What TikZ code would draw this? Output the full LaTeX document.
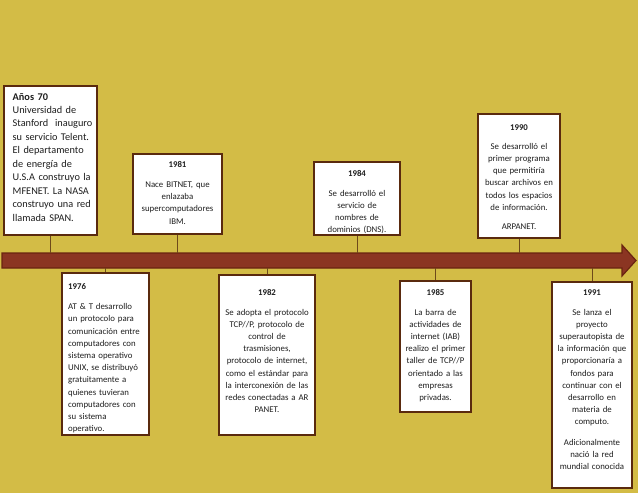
\documentclass[tikz,border=0pt]{standalone}
\usepackage{fontspec}
\setmainfont{Carlito}
\definecolor{bgcol}{HTML}{D3BC46}
\definecolor{arrowfill}{HTML}{8B3522}
\definecolor{arrowline}{HTML}{6A2410}
\definecolor{boxline}{HTML}{5A2A0E}
\definecolor{conncol}{HTML}{6E4A1A}
\definecolor{textcol}{HTML}{1E1E1E}
\tikzset{
  evbox/.style={draw=boxline, line width=2.4pt, fill=white, inner sep=0pt},
  conn/.style={draw=conncol, line width=0.8pt},
  txt/.style={inner sep=0pt, text=textcol, font=\fontsize{8.8}{12.2}\selectfont, align=center},
  txtl/.style={inner sep=0pt, text=textcol, font=\fontsize{8.8}{12.2}\selectfont, align=left},
}
\begin{document}
\begin{tikzpicture}[x=1pt,y=-1pt]
\fill[bgcol] (0,0) rectangle (638,493);
\useasboundingbox (0,0) rectangle (638,493);

% timeline arrow
\filldraw[fill=arrowfill, draw=arrowline, line width=1.2pt]
  (2,253) -- (622,253) -- (622,245) -- (636,260.5) -- (622,276) -- (622,268) -- (2,268) -- cycle;
\coordinate (atop) at (0,253);
\coordinate (abot) at (0,268);

% boxes
\node[evbox, minimum width=93pt, minimum height=149pt] (A70) at (50.5,160.5) {};
\node[evbox, minimum width=87pt, minimum height=162pt] (B76) at (105.5,354) {};
\node[evbox, minimum width=89pt, minimum height=80pt] (B81) at (177.5,194) {};
\node[evbox, minimum width=96pt, minimum height=160pt] (B82) at (267,355) {};
\node[evbox, minimum width=86pt, minimum height=73pt] (B84) at (357,198.5) {};
\node[evbox, minimum width=71pt, minimum height=131pt] (B85) at (435.5,346.5) {};
\node[evbox, minimum width=82pt, minimum height=124pt] (B90) at (519,176) {};
\node[evbox, minimum width=80pt, minimum height=206pt] (B91) at (592,385) {};

% connectors
\draw[conn] (A70.south) -- (A70.south |- atop);
\draw[conn] (B81.south) -- (B81.south |- atop);
\draw[conn] (B84.south) -- (B84.south |- atop);
\draw[conn] (B90.south) -- (B90.south |- atop);
\draw[conn] (B76.north) -- (B76.north |- abot);
\draw[conn] (B82.north) -- (B82.north |- abot);
\draw[conn] (B85.north) -- (B85.north |- abot);
\draw[conn] (B91.north) -- (B91.north |- abot);

% texts
\node[txtl, font=\fontsize{10.3}{13.45}\selectfont, text width=90pt, anchor=base west] (T70) at (12.5,100)
  {\textbf{Años 70}\\ Universidad de\\ Stanford\ \ inauguro\\ su servicio Telent.\\ El departamento\\ de energía de\\ U.S.A construyo la\\ MFENET. La NASA\\ construyo una red\\ llamada SPAN.};
\node[txtl, text width=90pt, anchor=base west] (T76) at (68,289)
  {\textbf{1976}\\[8.5pt] AT \& T desarrollo\\ un protocolo para\\ comunicación entre\\ computadores con\\ sistema operativo\\ UNIX, se distribuyó\\ gratuitamente a\\ quienes tuvieran\\ computadores con\\ su sistema\\ operativo.};
\node[txt, text width=100pt, anchor=base] (T81) at (177.5,167.5)
  {\textbf{1981}\\[7.8pt] Nace BITNET, que\\ enlazaba\\ supercomputadores\\ IBM.};
\node[txt, text width=110pt, anchor=base] (T82) at (267,295)
  {\textbf{1982}\\[7.8pt] Se adopta el protocolo\\ TCP//P, protocolo de\\ control de\\ trasmisiones,\\ protocolo de internet,\\ como el estándar para\\ la interconexión de las\\ redes conectadas a AR\\ PANET.};
\node[txt, text width=100pt, anchor=base] (T84) at (357,176.5)
  {\textbf{1984}\\[7.3pt] Se desarrolló el\\ servicio de\\ nombres de\\ dominios (DNS).};
\node[txt, text width=90pt, anchor=base] (T85) at (435.5,295)
  {\textbf{1985}\\[7.8pt] La barra de\\ actividades de\\ internet (IAB)\\ realizo el primer\\ taller de TCP//P\\ orientado a las\\ empresas\\ privadas.};
\node[txt, text width=100pt, anchor=base] (T90) at (519,130)
  {\textbf{1990}\\[7pt] Se desarrolló el\\ primer programa\\ que permitiría\\ buscar archivos en\\ todos los espacios\\ de información.\\[7pt] ARPANET.};
\node[txt, text width=100pt, anchor=base] (T91) at (592,295)
  {\textbf{1991}\\[7.8pt] Se lanza el\\ proyecto\\ superautopista de\\ la información que\\ proporcionaría a\\ fondos para\\ continuar con el\\ desarrollo en\\ materia de\\ computo.\\[8pt] Adicionalmente\\ nació la red\\ mundial conocida};
\end{tikzpicture}
\end{document}
